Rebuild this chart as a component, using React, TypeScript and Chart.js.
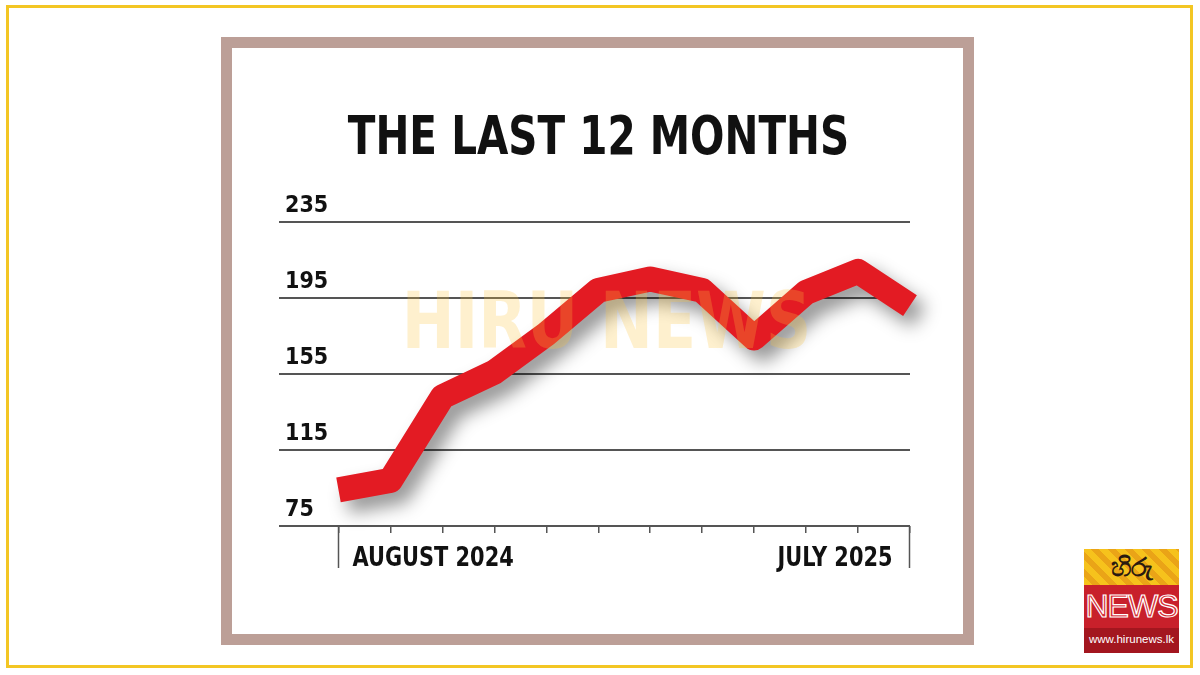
import React, { useEffect, useRef } from "react";
import { Chart, registerables } from "chart.js";

Chart.register(...registerables);

// ---------- data ----------
const TITLE = "THE LAST 12 MONTHS";
const MONTHS = [
  "Aug 2024", "Sep 2024", "Oct 2024", "Nov 2024", "Dec 2024", "Jan 2025",
  "Feb 2025", "Mar 2025", "Apr 2025", "May 2025", "Jun 2025", "Jul 2025",
];
const VALUES = [94, 99, 143, 156, 176, 199, 205, 199, 174, 198, 209, 191];
const Y_TICKS = [75, 115, 155, 195, 235];
const X_START_LABEL = "AUGUST 2024";
const X_END_LABEL = "JULY 2025";
const WATERMARK = "HIRU NEWS";
const LOGO_SI = "හිරු";
const LOGO_NEWS = "NEWS";
const LOGO_URL = "www.hirunews.lk";

const NARROW = '"DejaVu Sans Condensed", "DejaVu Sans", sans-serif';

function drawSqueezed(ctx: any, text: string, x: number, y: number, sx: number, align: string) {
  ctx.save();
  ctx.translate(x, y);
  ctx.scale(sx, 1);
  ctx.textAlign = align;
  ctx.fillText(text, 0, 0);
  ctx.restore();
}

const titlePlugin = {
  id: "squeezedTitle",
  beforeDraw(chart: any) {
    const { ctx, chartArea } = chart;
    ctx.save();
    ctx.font = `bold 53px ${NARROW}`;
    ctx.fillStyle = "#111";
    ctx.textBaseline = "middle";
    drawSqueezed(ctx, TITLE, (chartArea.left + chartArea.right) / 2 + 4, chartArea.top - 82, 0.85, "center");
    ctx.restore();
  },
};

const shadowPlugin = {
  id: "lineShadow",
  beforeDatasetDraw(chart: any) {
    const ctx = chart.ctx;
    ctx.save();
    ctx.shadowColor = "rgba(0,0,0,0.42)";
    ctx.shadowBlur = 18;
    ctx.shadowOffsetX = 9;
    ctx.shadowOffsetY = 11;
  },
  afterDatasetDraw(chart: any) {
    chart.ctx.restore();
  },
};

const watermarkPlugin = {
  id: "watermark",
  afterDatasetsDraw(chart: any) {
    const { ctx, chartArea } = chart;
    ctx.save();
    ctx.font = `bold 78px ${NARROW}`;
    ctx.fillStyle = "rgba(250,196,60,0.25)";
    ctx.textBaseline = "middle";
    const cx = (chartArea.left + chartArea.right) / 2 + 12;
    const cy = chartArea.top + 106;
    drawSqueezed(ctx, WATERMARK, cx, cy, 0.9, "center");
    ctx.restore();
  },
};

const axisDecorPlugin = {
  id: "axisDecor",
  afterDraw(chart: any) {
    const { ctx, chartArea } = chart;
    const xs = chart.scales.x;
    const bottom = chartArea.bottom;
    const p0 = Math.round(xs.getPixelForValue(0)) + 0.5;
    const p1 = Math.round(xs.getPixelForValue(MONTHS.length - 1)) - 0.5;
    ctx.save();
    ctx.strokeStyle = "#555";
    ctx.lineWidth = 1.5;
    [p0, p1].forEach((px) => {
      ctx.beginPath();
      ctx.moveTo(px, bottom);
      ctx.lineTo(px, bottom + 42);
      ctx.stroke();
    });
    ctx.font = `bold 27px ${NARROW}`;
    ctx.fillStyle = "#111";
    ctx.textBaseline = "middle";
    drawSqueezed(ctx, X_START_LABEL, p0 + 14, bottom + 33, 0.86, "left");
    drawSqueezed(ctx, X_END_LABEL, p1 - 17, bottom + 33, 0.86, "right");
    ctx.restore();
  },
};

function LineChart() {
  const ref = useRef<HTMLCanvasElement | null>(null);
  useEffect(() => {
    if (!ref.current) return;
    const chart = new Chart(ref.current, {
      type: "line",
      data: {
        datasets: [
          {
            label: "Index",
            data: VALUES.map((v, i) => ({ x: i, y: v })),
            borderColor: "#e31b23",
            borderWidth: 25,
            borderCapStyle: "butt",
            borderJoinStyle: "round",
            pointRadius: 0,
            tension: 0,
            fill: false,
            clip: false,
          } as any,
        ],
      },
      plugins: [titlePlugin, shadowPlugin, watermarkPlugin, axisDecorPlugin],
      options: {
        animation: false,
        responsive: false,
        devicePixelRatio: 1,
        events: [],
        layout: { padding: { left: 279, right: 290, top: 222, bottom: 142 } },
        plugins: {
          legend: { display: false },
          tooltip: { enabled: false },
          title: { display: false },
        },
        scales: {
          x: {
            type: "linear",
            min: -1.145,
            max: MONTHS.length - 1,
            afterBuildTicks: (ax: any) => {
              ax.ticks = MONTHS.map((_, i) => ({ value: i }));
            },
            afterFit: (ax: any) => {
              ax.height = 7;
            },
            border: { display: false },
            grid: {
              drawOnChartArea: false,
              drawTicks: true,
              tickLength: 7,
              color: "#555",
              lineWidth: 1.5,
            },
            ticks: { display: false },
          },
          y: {
            type: "linear",
            min: Y_TICKS[0],
            max: Y_TICKS[Y_TICKS.length - 1],
            afterBuildTicks: (ax: any) => {
              ax.ticks = Y_TICKS.map((v) => ({ value: v }));
            },
            afterFit: (ax: any) => {
              ax.width = 0;
            },
            border: { display: false },
            grid: { drawTicks: false, color: "#555", lineWidth: 2 },
            ticks: {
              mirror: true,
              padding: 6,
              labelOffset: -16,
              color: "#111",
              font: { family: NARROW, size: 23, weight: "bold" },
            },
          },
        },
      } as any,
    });
    return () => chart.destroy();
  }, []);
  return (
    <canvas
      ref={ref}
      width={1200}
      height={675}
      style={{ position: "absolute", left: 0, top: 0, width: 1200, height: 675, zIndex: 2 }}
    />
  );
}

export default function App() {
  return (
    <div
      style={{
        position: "absolute",
        left: 0,
        top: 0,
        width: 1200,
        height: 675,
        background: "#fff",
        overflow: "hidden",
      }}
    >
      <div
        style={{
          position: "absolute",
          left: 6,
          top: 5,
          width: 1187,
          height: 663,
          boxSizing: "border-box",
          border: "3px solid #f3c623",
        }}
      />
      <div
        style={{
          position: "absolute",
          left: 221,
          top: 37,
          width: 753,
          height: 608,
          boxSizing: "border-box",
          border: "11px solid #bc9f97",
          background: "#fff",
        }}
      />
      <LineChart />
      <div
        style={{
          position: "absolute",
          left: 1084,
          top: 549,
          width: 95,
          height: 104,
          overflow: "hidden",
          fontFamily: '"Liberation Sans", Arial, sans-serif',
          zIndex: 3,
        }}
      >
        <div
          style={{
            height: 36,
            background:
              "repeating-linear-gradient(45deg, #f6c21c 0 6px, #eaa417 6px 12px)",
            color: "#2a1a10",
            fontSize: 26,
            fontWeight: "bold",
            textAlign: "center",
            lineHeight: "36px",
          }}
        >
          {LOGO_SI}
        </div>
        <div
          style={{
            height: 43,
            background: "#c8202b",
            color: "#d42a32",
            fontSize: 32,
            textAlign: "center",
            lineHeight: "43px",
            WebkitTextStroke: "1.2px #fff",
            letterSpacing: -1,
          } as any}
        >
          {LOGO_NEWS}
        </div>
        <div
          style={{
            height: 25,
            background: "#a3161f",
            color: "#fff",
            fontSize: 11.5,
            textAlign: "center",
            lineHeight: "23px",
          }}
        >
          {LOGO_URL}
        </div>
      </div>
    </div>
  );
}
